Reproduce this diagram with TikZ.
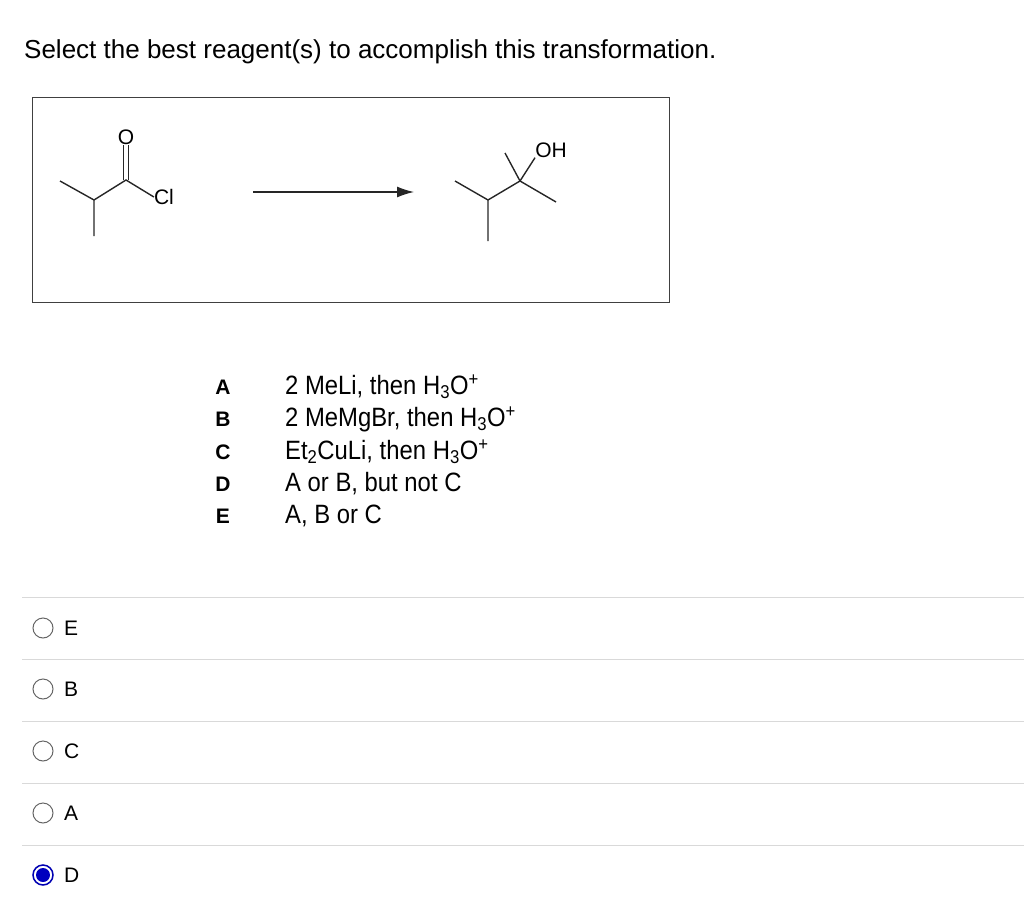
\documentclass[tikz,border=0pt]{standalone}
\usepackage{fontspec}
\usetikzlibrary{arrows.meta}
\setmainfont{Liberation Sans}
\begin{document}
\begin{tikzpicture}[x=1pt,y=-1pt,
  bond/.style={line width=1.4pt, black!85},
  lbl/.style={inner sep=0pt, font=\fontsize{21}{21}\selectfont},
  opt/.style={anchor=west, inner sep=0pt, font=\fontsize{26.5}{26.5}\selectfont},
  let/.style={inner sep=0pt, font=\bfseries\fontsize{21}{21}\selectfont},
  sep/.style={draw=black!15, line width=1pt},
  radio/.style={draw=black!60, line width=1pt, circle, minimum size=20pt, inner sep=0pt},
  rlab/.style={anchor=west, inner sep=0pt, font=\fontsize{21}{21}\selectfont}]
\useasboundingbox (0,0) rectangle (1024,909);
\node[anchor=west, inner sep=0pt, font=\fontsize{26}{26}\selectfont] (title) at (24,52) {Select the best reagent(s) to accomplish this transformation.};
\node[draw=black!75, line width=1.3pt, minimum width=637pt, minimum height=205pt, anchor=north west] (box) at (32,97) {};
% left molecule
\coordinate (m1) at (60,181);
\coordinate (ch) at (94,200);
\coordinate (m2) at (94,236);
\coordinate (cc) at (126,180);
\node[lbl] (O) at (126,137) {O};
\node[lbl] (Cl) at (164,197) {Cl};
\draw[bond] (m1) -- (ch) -- (m2);
\draw[bond] (ch) -- (cc) -- (Cl.west);
\draw[bond] ([xshift=-2.3pt]cc) -- ([xshift=-2.3pt]O.south);
\draw[bond] ([xshift=2.3pt]cc) -- ([xshift=2.3pt]O.south);
% arrow
\coordinate (a1) at (253,192);
\coordinate (a2) at (414,192);
\draw[line width=1.4pt, black!85, -{Latex[length=17pt,width=11pt]}] (a1) -- (a2);
% right molecule
\coordinate (r1) at (455,181);
\coordinate (rch) at (488,200);
\coordinate (r2) at (488,241);
\coordinate (rq) at (520,181);
\coordinate (r3) at (505,153);
\coordinate (r4) at (556,202);
\node[lbl] (OH) at (551,150) {OH};
\draw[bond] (r1) -- (rch) -- (r2);
\draw[bond] (rch) -- (rq) -- (r4);
\draw[bond] (rq) -- (r3);
\draw[bond] (rq) -- (OH.south west);
% options
\foreach \y/\l/\t [count=\i] in {387/A/{2 MeLi, then H\textsubscript{3}O\textsuperscript{+}},
  419/B/{2 MeMgBr, then H\textsubscript{3}O\textsuperscript{+}},
  452/C/{Et\textsubscript{2}CuLi, then H\textsubscript{3}O\textsuperscript{+}},
  484/D/{A or B, but not C},
  516/E/{A, B or C}} {
  \node[let] (L\i) at (223,\y) {\l};
  \node[opt, xscale=0.9] (T\i) at (285,\y) {\t};
}
% radio rows
\foreach \y in {597,659,721,783,845} \draw[sep] (22,\y) -- (1024,\y);
\foreach \y/\l [count=\i] in {628/E,689/B,751/C,813/A} {
  \node[radio] (R\i) at (43,\y) {};
  \node[rlab] (RL\i) at (64,\y) {\l};
}
\node[radio, draw=blue!70!black, line width=1.5pt] (R5) at (43,875) {};
\fill[blue!75!black] (R5.center) circle (7pt);
\node[rlab] (RL5) at (64,875) {D};
\end{tikzpicture}
\end{document}
